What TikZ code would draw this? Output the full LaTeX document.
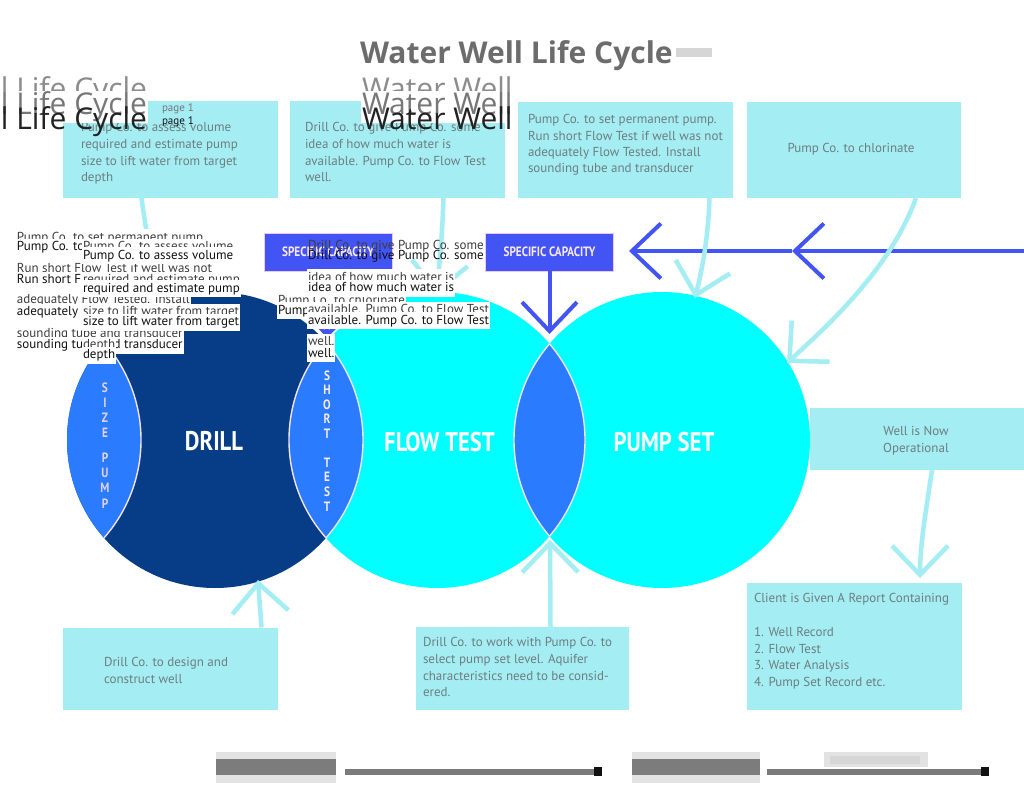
\documentclass[tikz,border=0pt]{standalone}
\usepackage{fontspec}
\setmainfont{PT Sans}
\newfontfamily\lblfont[FakeStretch=0.84]{PT Sans}
\newfontfamily\capfont[FakeStretch=0.83]{PT Sans}
\newfontfamily\ttlfont{Open Sans}
\usetikzlibrary{arrows.meta}
\definecolor{drillblue}{HTML}{073C87}
\definecolor{lensblue}{HTML}{2B7BFF}
\definecolor{cyanfill}{HTML}{00FFFF}
\definecolor{paleb}{HTML}{A3EDF3}
\definecolor{capblue}{HTML}{4354F5}
\definecolor{capedge}{HTML}{F2C6F2}
\definecolor{captext}{HTML}{F8E8F8}
\definecolor{boxtext}{HTML}{6E7E80}
\definecolor{rimc}{HTML}{F2E2F2}
\definecolor{strayA}{HTML}{3C3C3C}
\definecolor{strayB}{HTML}{111111}
\definecolor{ttlgray}{HTML}{6C6C6C}
\definecolor{ttllight}{HTML}{D6D6D6}
\definecolor{rowA}{HTML}{8C8C8C}
\definecolor{rowB}{HTML}{777777}
\definecolor{rowC}{HTML}{222222}
\definecolor{footlight}{HTML}{E2E2E2}
\definecolor{footdark}{HTML}{7C7C7C}
\definecolor{footline}{HTML}{7B7B7B}
\definecolor{sizetext}{HTML}{E2D2E8}
\setlength{\fboxsep}{1pt}
\newcommand\whiteln[1]{\colorbox{white}{\rule[-4pt]{0pt}{15pt}#1}}
\newcommand\plainln[1]{\hspace*{1pt}\rule[-5pt]{0pt}{17pt}#1}
\newcommand\whitebig[1]{\colorbox{white}{\rule[-2pt]{0pt}{22pt}#1}}
\begin{document}
\begin{tikzpicture}[x=1pt,y=-1pt,
  every node/.style={inner sep=0pt, outer sep=0pt},
  infobox/.style 2 args={fill=paleb, minimum width=#1, minimum height=#2},
  boxtxt/.style={font=\fontsize{13}{16.7}\selectfont, text=boxtext, align=left},
  circlelbl/.style={font=\lblfont\bfseries\fontsize{27}{27}\selectfont, text=white},
  vlbl/.style={font=\lblfont\bfseries\fontsize{13.5}{#1}\selectfont, align=center},
  capbox/.style={fill=capblue, draw=capedge, line width=0.8pt, minimum width=128pt, minimum height=38pt,
     font=\capfont\bfseries\fontsize{13.5}{13.5}\selectfont, text=captext},
  rim/.style={draw=rimc, line width=1.4pt},
  stray/.style={font=\fontsize{13}{#1}\selectfont, align=left, anchor=north west},
  lightarrow/.style={draw=paleb, line width=4.5pt, -{Straight Barb[length=29pt,width=56pt]}},
  bluearrow/.style={draw=capblue, line width=4pt, -{Straight Barb[length=29pt,width=55pt]}},
  footline/.style={draw=footline, line width=6pt},
  footdot/.style={fill=strayB, minimum width=8pt, minimum height=9pt},
  rowfont/.style={font=\ttlfont\fontsize{30}{30}\selectfont}
]
\useasboundingbox (0,0) rectangle (1024,791);
\fill[white] (0,0) rectangle (1024,791);

% ---------- info boxes ----------
\node[infobox={215pt}{97pt}] (b1) at (170.5,149.5) {};
\node[infobox={215pt}{97pt}] (b2) at (397.5,149.5) {};
\node[infobox={215pt}{96pt}] (b3) at (625.5,150) {};
\node[infobox={214pt}{96pt}] (b4) at (854,150) {};
\node[infobox={214pt}{62pt}] (bwell) at (917,439) {};
\node[infobox={215pt}{127pt}] (brep) at (854.5,646.5) {};
\node[infobox={215pt}{82pt}] (bdes) at (170.5,668.5) {};
\node[infobox={213pt}{83pt}] (bwork) at (522.5,668.5) {};

\node[boxtxt, anchor=north west] (b1t) at (81,122.6) {Pump Co. to assess volume\\required and estimate pump\\size to lift water from target\\depth};
\node[boxtxt, anchor=north west] (b2t) at (305,122.6) {Drill Co. to give Pump Co. some\\idea of how much water is\\available. Pump Co. to Flow Test\\well.};
\node[boxtxt, anchor=north west, font=\fontsize{13}{16.2}\selectfont] (b3t) at (528,114.6) {Pump Co. to set permanent pump.\\Run short Flow Test if well was not\\adequately Flow Tested. Install\\sounding tube and transducer};
\node[boxtxt] (b4t) at (851,149) {Pump Co. to chlorinate};
\node[boxtxt, align=center] (bwellt) at (916,441) {Well is Now\\Operational};
\node[boxtxt, anchor=north west] (brept) at (754,593.6) {Client is Given A Report Containing\\[17pt]1. Well Record\\2. Flow Test\\3. Water Analysis\\4. Pump Set Record etc.};
\node[boxtxt, anchor=north west] (bdest) at (104,657.6) {Drill Co. to design and\\construct well};
\node[boxtxt, anchor=north west] (bworkt) at (423,637.6) {Drill Co. to work with Pump Co. to\\select pump set level. Aquifer\\characteristics need to be consid-\\ered.};

% ---------- circles ----------
\node[circle, fill=drillblue, minimum size=296pt] (drill) at (215,440) {};
\node[circle, fill=cyanfill, minimum size=296pt] (flow) at (437,440) {};
\node[circle, fill=cyanfill, minimum size=296pt] (pump) at (662,440) {};
\coordinate (phantom) at (-7,440);
\begin{scope}
  \clip (drill.center) circle[radius=148pt];
  \fill[lensblue] (flow.center) circle[radius=148pt];
  \fill[lensblue] (phantom) circle[radius=148pt];
  \draw[rim] (flow.center) circle[radius=148pt];
  \draw[rim] (phantom) circle[radius=148pt];
\end{scope}
\begin{scope}
  \clip (flow.center) circle[radius=148pt];
  \fill[lensblue] (pump.center) circle[radius=148pt];
  \draw[rim] (pump.center) circle[radius=148pt];
  \draw[rim] (drill.center) circle[radius=148pt];
\end{scope}
\begin{scope}
  \clip (pump.center) circle[radius=148pt];
  \draw[rim] (flow.center) circle[radius=148pt];
\end{scope}

\node[circlelbl] (drilll) at (214,441) {DRILL};
\node[circlelbl] (flowl) at (439.5,442) {FLOW TEST};
\node[circlelbl] (pumpl) at (664,442) {PUMP SET};

\node[vlbl=15, text=sizetext] (sizel) at (105,410) {S\\I\\Z\\E};
\node[vlbl=15.3, text=sizetext] (sizepl) at (105,480.5) {P\\U\\M\\P};
\node[vlbl=14.5, text=captext] (shortl) at (327,404.5) {S\\H\\O\\R\\T};
\node[vlbl=14.7, text=captext] (testl) at (327,484.5) {T\\E\\S\\T};

% ---------- specific capacity ----------
\node[capbox] (cap1) at (328,252) {SPECIFIC CAPACITY};
\node[capbox] (cap2) at (549.5,252) {SPECIFIC CAPACITY};
\coordinate (cap1tip) at (327,338);
\coordinate (cap2tip) at (549.5,334);
\coordinate (redge) at (1030,251);
\coordinate (midtip) at (792,251);
\coordinate (cap2in) at (629,251);
\draw[bluearrow] (cap1.south) -- (cap1tip);
\draw[bluearrow] (cap2.south) -- (cap2tip);
\draw[bluearrow] (redge) -- (midtip);
\draw[bluearrow] (midtip) -- (cap2in);

% ---------- light connectors ----------
\coordinate (t1) at (161,301);
\coordinate (t2) at (436,295);
\coordinate (t3) at (695,298);
\coordinate (t4) at (787,363);
\coordinate (t5) at (920,578);
\coordinate (t6) at (258,580);
\coordinate (t7) at (550,540);
\draw[lightarrow] ([xshift=-29pt]b1.south) .. controls (147,240) and (155,275) .. (t1);
\draw[lightarrow] ([xshift=46pt]b2.south) .. controls (442,240) and (439,270) .. (t2);
\draw[lightarrow] ([xshift=84pt]b3.south) .. controls (708,240) and (702,270) .. (t3);
\draw[lightarrow] ([xshift=62pt]b4.south) .. controls (890,270) and (825,328) .. (t4);
\draw[lightarrow] ([xshift=15pt]bwell.south) .. controls (926,510) and (920,545) .. (t5);
\draw[lightarrow] ([xshift=91pt]bdes.north) -- (t6);
\draw[lightarrow] ([xshift=28pt]bwork.north) -- (t7);

% ---------- title ----------
\node[font=\ttlfont\bfseries\fontsize{30}{30}\selectfont, text=ttlgray, anchor=base west] (title) at (360,64) {Water Well Life Cycle};
\fill[ttllight] (676,48) rectangle (712,57);

\begin{scope}
  \clip (355,60) rectangle (514,145);
  \node[rowfont, text=rowA, anchor=base west] (rowa) at (362,100) {Water Well Life Cycle};
  \node[rowfont, text=rowB, anchor=base west] (rowb) at (361,115) {\whitebig{Water Well Life Cycle}};
  \node[rowfont, text=rowC, anchor=base west] (rowc) at (362,130) {Water Well Life Cycle};
\end{scope}
\begin{scope}
  \clip (0,60) rectangle (200,145);
  \node[rowfont, text=rowA, anchor=base east] (lrowa) at (147,100) {Water Well Life Cycle};
  \node[rowfont, text=rowB, anchor=base east] (lrowb) at (148,115) {\whitebig{Water Well Life Cycle}};
  \node[rowfont, text=rowC, anchor=base east] (lrowc) at (147,130) {Water Well Life Cycle};
\end{scope}
\node[font=\fontsize{11}{11}\selectfont, text=rowB, anchor=base west] (pg1) at (162,112) {page 1};
\node[font=\fontsize{11}{11}\selectfont, text=strayB, anchor=base west] (pg2) at (162,125) {page 1};

% ---------- stray text copies ----------
\node[stray=31, text=strayA] (LA) at (16,229) {\whiteln{Pump Co. to set permanent pump}\\\whiteln{Run short Flow Test if well was not}\\\whiteln{adequately Flow Tested. Install}\\[3pt]\whiteln{sounding tube and transducer}};
\node[stray=32.5, text=strayB] (LB) at (16,239) {\whiteln{Pump Co. to set permanent pump}\\\whiteln{Run short Flow Test if well was not}\\\whiteln{adequately Flow Tested. Install}\\\whiteln{sounding tube and transducer}};
\node[stray=32.5, text=strayA] (RA) at (82,239) {\whiteln{Pump Co. to assess volume}\\\whiteln{required and estimate pump}\\\whiteln{size to lift water from target}\\\whiteln{depth}};
\node[stray=33.3, text=strayB] (RB) at (82,247) {\whiteln{Pump Co. to assess volume}\\\whiteln{required and estimate pump}\\\whiteln{size to lift water from target}\\\whiteln{depth}};
\node[stray=20, text=strayA] (DA) at (277,292) {\whiteln{Pump Co. to chlorinate}};
\node[stray=20, text=strayB] (DB) at (277,302) {\whiteln{Pump Co. to chlorinate}};
\node[stray=32.3, text=strayA] (CA) at (307,237) {\plainln{Drill Co. to give Pump Co. some}\\\whiteln{idea of how much water is}\\\whiteln{available. Pump Co. to Flow Test}\\\whiteln{well.}};
\node[stray=32.7, text=strayB] (CB) at (307,247) {\plainln{Drill Co. to give Pump Co. some}\\\whiteln{idea of how much water is}\\\whiteln{available. Pump Co. to Flow Test}\\\whiteln{well.}};

% ---------- footer ----------
\fill[footlight] (216,752) rectangle (336,783);
\node[fill=footdark, minimum width=120pt, minimum height=16pt] (f1) at (276,767) {};
\fill[footlight] (632,752) rectangle (760,783);
\node[fill=footdark, minimum width=128pt, minimum height=16pt] (f2) at (696,767) {};
\fill[footlight] (824,752) rectangle (928,767);
\node[fill=ttllight, minimum width=90pt, minimum height=8pt] (f3) at (875,760) {};
\node[footdot] (d1) at (598,771.5) {};
\node[footdot] (d2) at (985,771.5) {};
\coordinate (fl1) at (345,771.5);
\coordinate (fl2) at (767,771.5);
\draw[footline] (fl1) -- (d1.west);
\draw[footline] (fl2) -- (d2.west);
\end{tikzpicture}
\end{document}
